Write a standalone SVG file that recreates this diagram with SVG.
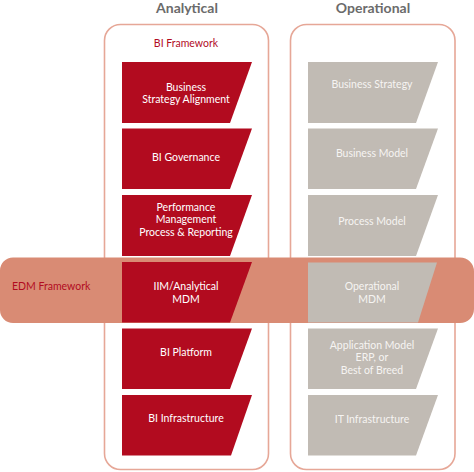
<svg xmlns="http://www.w3.org/2000/svg" width="474" height="472" viewBox="0 0 474 472">
<defs>
<style>
.frame{fill:#fff;stroke:#e6a797;stroke-width:1.6}
.red{fill:#b20b1f}
.gray{fill:#c1bbb4}
.band{fill:#d98b74}
.title{font-family:Lato,"Liberation Sans",sans-serif;font-size:14px;font-weight:bold;fill:#6b6b6b;text-anchor:middle}
.lbl{font-family:Lato,"Liberation Sans",sans-serif;font-size:10.5px;text-anchor:middle}
.w{fill:#ffffff}
.g{fill:#f6f4f2}
.dr{font-family:Lato,"Liberation Sans",sans-serif;font-size:10.5px;fill:#b20b1f}
</style>
</defs>
<rect width="474" height="472" fill="#fff"/>
<g id="titles">
<text class="title" x="187" y="13">Analytical</text>
<text class="title" x="373" y="13">Operational</text>
</g>
<g id="analytical-frame">
<rect class="frame" x="104.5" y="24.5" width="164" height="445" rx="16"/>
<text class="dr" x="186" y="47" text-anchor="middle">BI Framework</text>
</g>
<g id="operational-frame">
<rect class="frame" x="290.5" y="24.5" width="164.5" height="445" rx="16"/>
</g>
<g id="edm-framework">
<path class="band" d="M13,257.5 H460 A14,14 0 0 1 474,271.5 V309 A14,14 0 0 1 460,323 H13 A13,13 0 0 1 0,310 V270.5 A13,13 0 0 1 13,257.5 Z"/>
<text class="dr" x="12" y="290">EDM Framework</text>
</g>
<g id="a1"><polygon class="red" points="122,62 252,62 230,123 122,123"/>
<text class="lbl w" x="186" y="91">Business</text><text class="lbl w" x="186" y="103">Strategy Alignment</text></g>
<g id="a2"><polygon class="red" points="122,128.5 252,128.5 230,189 122,189"/>
<text class="lbl w" x="186" y="161">BI Governance</text></g>
<g id="a3"><polygon class="red" points="122,195 252,195 230,256 122,256"/>
<text class="lbl w" x="186" y="211">Performance</text><text class="lbl w" x="186" y="223">Management</text><text class="lbl w" x="186" y="235.5">Process &amp; Reporting</text></g>
<g id="a4"><polygon class="red" points="122,262 252,262 230,322.5 122,322.5"/>
<text class="lbl w" x="186" y="290">IIM/Analytical</text><text class="lbl w" x="186" y="303">MDM</text></g>
<g id="a5"><polygon class="red" points="122,328.5 252,328.5 230,389 122,389"/>
<text class="lbl w" x="186" y="356">BI Platform</text></g>
<g id="a6"><polygon class="red" points="122,395 252,395 231,455.5 122,455.5"/>
<text class="lbl w" x="186" y="422">BI Infrastructure</text></g>
<g id="o1"><polygon class="gray" points="308,62 438,62 416,123 308,123"/>
<text class="lbl g" x="372" y="88">Business Strategy</text></g>
<g id="o2"><polygon class="gray" points="308,128.5 438,128.5 416,189 308,189"/>
<text class="lbl g" x="372" y="157">Business Model</text></g>
<g id="o3"><polygon class="gray" points="308,195 438,195 416,256 308,256"/>
<text class="lbl g" x="372" y="225">Process Model</text></g>
<g id="o4"><polygon class="gray" points="308,262.5 437,262.5 418,322.5 308,322.5"/>
<text class="lbl g" x="372" y="290">Operational</text><text class="lbl g" x="372" y="303">MDM</text></g>
<g id="o5"><polygon class="gray" points="308,328.5 438,328.5 416,389 308,389"/>
<text class="lbl g" x="372" y="349">Application Model</text><text class="lbl g" x="372" y="361">ERP, or</text><text class="lbl g" x="372" y="374">Best of Breed</text></g>
<g id="o6"><polygon class="gray" points="308,395 438,395 416,455.5 308,455.5"/>
<text class="lbl g" x="372" y="423">IT Infrastructure</text></g>
<g id="connectors"></g>
</svg>
